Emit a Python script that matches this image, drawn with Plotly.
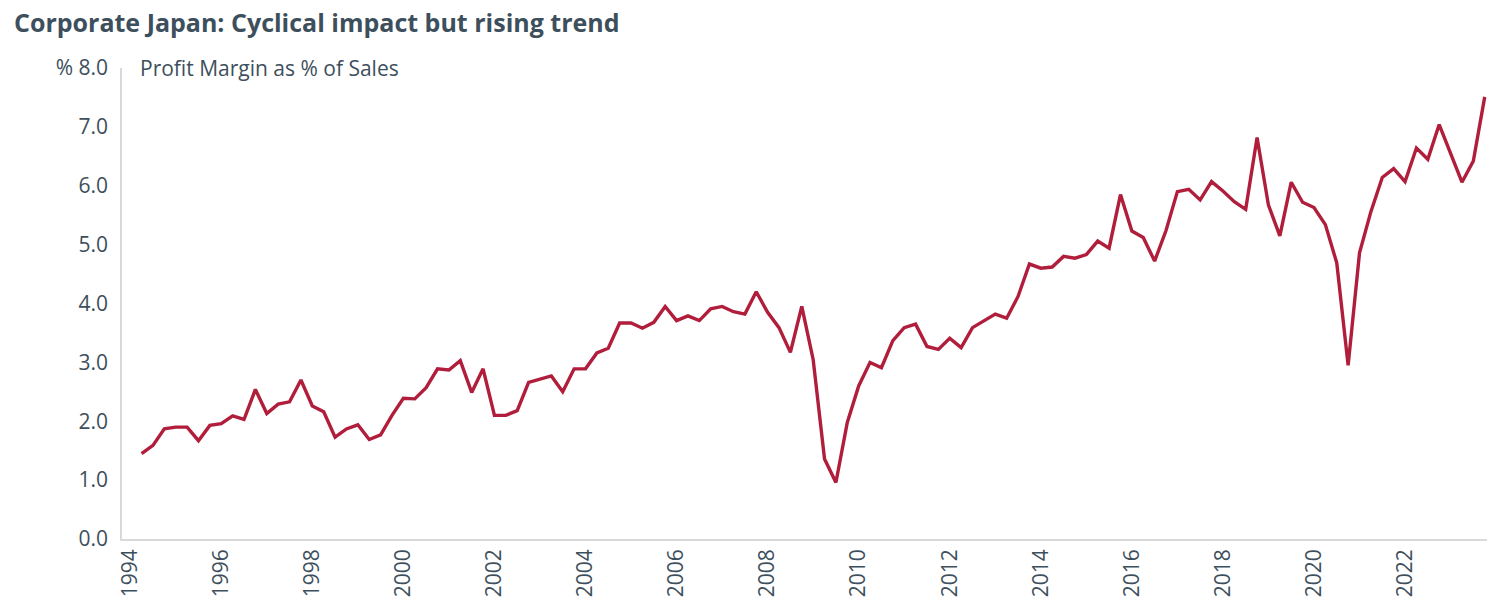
import plotly.graph_objects as go

# quarterly profit margin readings, 1994 Q2 .. 2023 Q4
margin_raw = [
    1.53, 1.67, 1.95, 1.98, 1.98, 1.75, 2.01, 2.04, 2.17, 2.11, 2.62, 2.21, 2.37, 2.41, 2.78, 2.34,
    2.24, 1.81, 1.95, 2.02, 1.77, 1.85, 2.18, 2.47, 2.46, 2.65, 2.97, 2.95, 3.11, 2.57, 2.97, 2.18,
    2.18, 2.26, 2.74, 2.80, 2.85, 2.58, 2.97, 2.97, 3.24, 3.32, 3.75, 3.75, 3.66, 3.76, 4.03, 3.79,
    3.87, 3.79, 3.99, 4.03, 3.94, 3.90, 4.28, 3.93, 3.67, 3.25, 4.03, 3.13, 1.44, 1.04, 2.06, 2.68,
    3.08, 2.99, 3.45, 3.67, 3.73, 3.35, 3.30, 3.49, 3.33, 3.67, 3.79, 3.90, 3.83, 4.20, 4.75, 4.68,
    4.70, 4.88, 4.85, 4.91, 5.14, 5.02, 5.93, 5.31, 5.20, 4.80, 5.32, 5.98,
    6.02, 5.84, 6.15, 5.99, 5.81, 5.68, 6.90, 5.75, 5.23, 6.14, 5.80, 5.71, 5.42, 4.77, 3.03, 4.94,
    5.64, 6.22, 6.37, 6.15, 6.72, 6.53, 7.12, 6.62, 6.14, 6.50, 7.59,
]
margin = [round(v - 0.08, 2) for v in margin_raw]
quarters = [1994.25 + 0.25 * i for i in range(len(margin))]

year_ticks = list(range(1994, 2023, 2))
y_ticks = [0, 1, 2, 3, 4, 5, 6, 7, 8]
y_labels = ["0.0", "1.0", "2.0", "3.0", "4.0", "5.0", "6.0", "7.0", "% 8.0"]

text_col = "#3d4f5c"

fig = go.Figure()
fig.add_trace(go.Scatter(x=quarters, y=margin, mode="lines",
                         line=dict(color="#b01e3c", width=3.4), showlegend=False))

fig.update_layout(
    width=1501, height=613,
    paper_bgcolor="white", plot_bgcolor="white",
    margin=dict(l=114, r=22, t=60, b=82),
    font=dict(family="Open Sans", color=text_col, size=21),
    title=dict(text="<b>Corporate Japan: Cyclical impact but rising trend</b>",
               x=0.004, xanchor="left", y=0.99, yanchor="top",
               font=dict(size=25, color=text_col)),
)
fig.update_xaxes(range=[1993.82, 2023.8], tickvals=year_ticks, ticktext=[str(y) for y in year_ticks],
                 tickangle=-90, showgrid=False, zeroline=False, showline=True,
                 linecolor="#d9d9d9", linewidth=1.5, ticks="", tickfont=dict(size=21))
fig.update_yaxes(range=[0, 8], tickvals=y_ticks, ticktext=y_labels, showgrid=False,
                 zeroline=False, showline=True, linecolor="#d9d9d9", linewidth=1.5,
                 ticks="", ticklabelstandoff=8, tickfont=dict(size=21))

fig.add_annotation(text="Profit Margin as % of Sales", xref="paper", yref="y",
                   x=0.012, y=8, xanchor="left", yanchor="middle", showarrow=False,
                   font=dict(size=21, color=text_col))

fig.write_html("out.html")
